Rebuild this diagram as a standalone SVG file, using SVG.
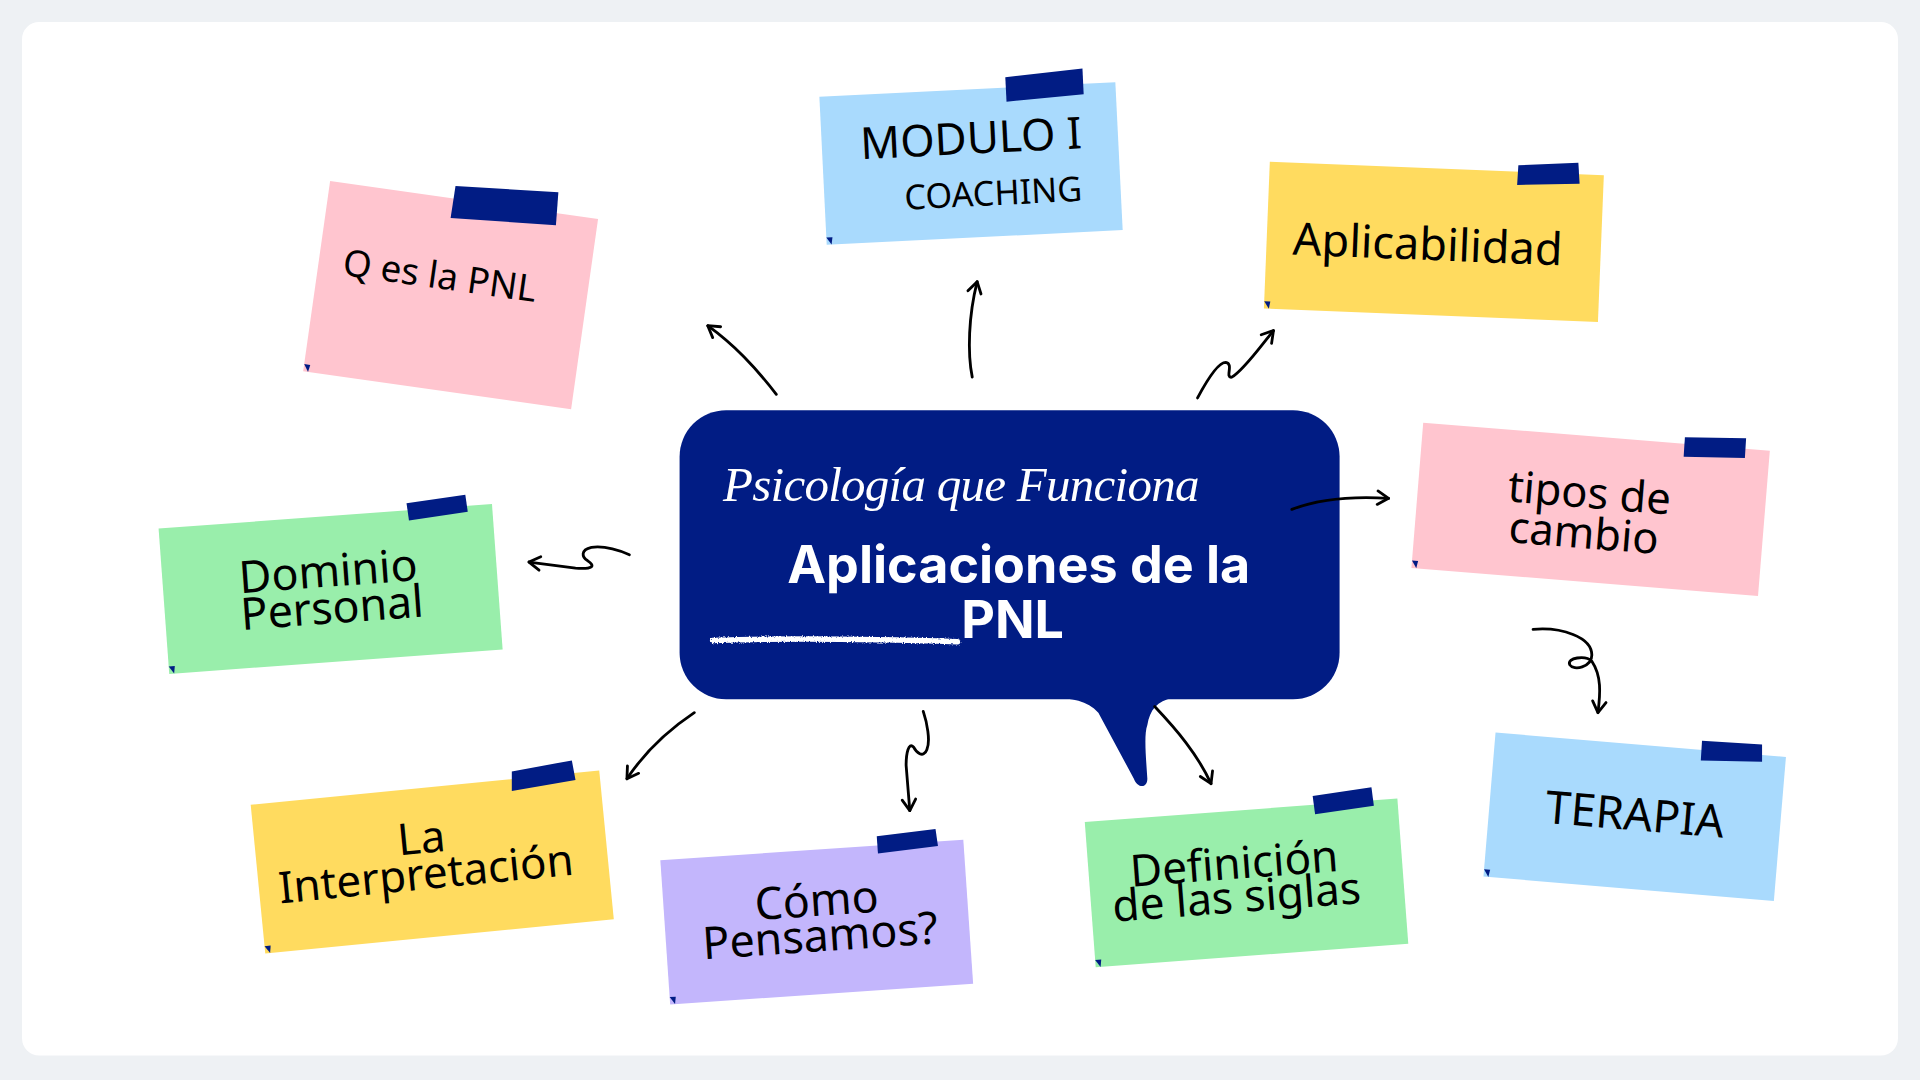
<svg xmlns="http://www.w3.org/2000/svg" width="1920" height="1080" viewBox="0 0 1920 1080">
<defs>
<style>
.note text{font-family:"Noto Sans","DejaVu Sans",sans-serif;fill:#000;text-anchor:middle}
.tape,.fold{fill:#011c84}
.con path{fill:none;stroke:#000;stroke-width:2.3;stroke-linecap:round;stroke-linejoin:round}
.pink{fill:#ffc5cf}.blue{fill:#a9dafd}.yellow{fill:#ffdb5f}.green{fill:#99eeab}.purple{fill:#c3b6fc}
</style>
<marker id="ah" viewBox="-12 -8 16 16" refX="0" refY="0" markerWidth="16" markerHeight="16" markerUnits="userSpaceOnUse" orient="auto">
<path d="M-9,-5.5 L0,0 L-9,5.5" fill="none" stroke="#000" stroke-width="2.3" stroke-linecap="round" stroke-linejoin="round"/>
</marker>
<filter id="chalk" x="-5%" y="-200%" width="110%" height="500%">
<feTurbulence type="fractalNoise" baseFrequency="0.9" numOctaves="2" result="n"/>
<feDisplacementMap in="SourceGraphic" in2="n" scale="3"/>
</filter>
</defs>
<rect width="1920" height="1080" fill="#eef1f4"/>
<g transform="scale(1.2244898)">
<rect x="18" y="18" width="1532" height="844" rx="14" fill="#ffffff"/>

<g id="center">
<rect x="555" y="335" width="539" height="236" rx="38" fill="#011c84"/>
<path d="M860,570 C875,570 888,572 897,582 L926,636 C929,644 937,644 937,636 C936,620 934,600 937,592 C939,580 945,572 958,570 Z" fill="#011c84"/>
<text x="785" y="409" font-family="Liberation Serif, serif" font-style="italic" font-size="40" fill="#ffffff" text-anchor="middle" textLength="389" lengthAdjust="spacing">Psicología que Funciona</text>
<text x="832" y="476" font-family="Inter, 'Liberation Sans', sans-serif" font-weight="700" font-size="42.5" fill="#ffffff" text-anchor="middle">Aplicaciones de la</text>
<text x="827" y="521" font-family="Inter, 'Liberation Sans', sans-serif" font-weight="700" font-size="42.5" fill="#ffffff" text-anchor="middle">PNL</text>
<path d="M582,523 C640,521 720,522 782,524" fill="none" stroke="#ffffff" stroke-width="4.5" stroke-linecap="round" filter="url(#chalk)"/>
</g>

<g id="connectors" class="con">
<path d="M634,322 C616,299 600,282 578,266" marker-end="url(#ah)"/>
<path d="M794,308 C790,288 791,258 798,230" marker-end="url(#ah)"/>
<path d="M978,325 C986,310 995,296 1001,296 C1008,297 1000,309 1006,308 C1016,302 1030,282 1040,270" marker-end="url(#ah)"/>
<path d="M1055,416 C1076,408 1102,405 1134,407" marker-end="url(#ah)"/>
<path d="M1252,514 C1275,512 1300,520 1300,535 C1300,545 1285,548 1282,543 C1279,537 1295,535 1300,540 C1308,552 1307,566 1305,582" marker-end="url(#ah)"/>
<path d="M514,453 C500,447 490,446 483,447 C474,449 475,455 480,458 C486,462 485,465 470,464 L432,459" marker-end="url(#ah)"/>
<path d="M567,582 C546,596 526,615 512,636" marker-end="url(#ah)"/>
<path d="M754,581 C757,590 760,605 757,612 C754,620 748,614 746,610 C742,606 740,615 740,625 L743,662" marker-end="url(#ah)"/>
<path d="M943,577 C961,596 978,616 989,640" marker-end="url(#ah)"/>
</g>

<g id="note-que-es" class="note">
<g transform="translate(368,241) rotate(8.06)">
<rect class="pink" x="-110.5" y="-78.5" width="221" height="157"/>
<polygon class="fold" points="-110.5,72.5 -105.5,72.5 -106.5,78.5"/>
<text x="-11" y="-4" font-size="30">Q es la PNL</text>
</g>
<polygon class="tape" points="372,152 456,157 454,184 368,178"/>
</g>

<g id="note-modulo" class="note">
<g transform="translate(793,133.5) rotate(-2.84)">
<rect class="blue" x="-121" y="-60.5" width="242" height="121"/>
<polygon class="fold" points="-121,54.5 -116,54.5 -117,60.5"/>
<text x="1" y="-8" font-size="36">MODULO I</text>
<text x="17" y="35" font-size="28">COACHING</text>
</g>
<polygon class="tape" points="821,63 884,56 885,77 822,83"/>
</g>

<g id="note-aplicabilidad" class="note">
<g transform="translate(1171,197.5) rotate(2.3)">
<rect class="yellow" x="-136.5" y="-60" width="273" height="120"/>
<polygon class="fold" points="-136.5,54 -131.5,54 -132.5,60"/>
<text x="-5" y="15" font-size="36.8">Aplicabilidad</text>
</g>
<polygon class="tape" points="1240,135 1289,133 1290,150 1239,151"/>
</g>

<g id="note-tipos" class="note">
<g transform="translate(1299,416) rotate(4.65)">
<rect class="pink" x="-142" y="-59.5" width="284" height="119"/>
<polygon class="fold" points="-142,53.5 -137,53.5 -138,59.5"/>
<text x="-2" y="-1" font-size="35.5">tipos de</text>
<text x="-4" y="32" font-size="35.5">cambio</text>
</g>
<polygon class="tape" points="1376,357 1426,358 1425,374 1375,373"/>
</g>

<g id="note-dominio" class="note">
<g transform="translate(270,481) rotate(-4.2)">
<rect class="green" x="-136.5" y="-59.5" width="273" height="119"/>
<polygon class="fold" points="-136.5,53.5 -131.5,53.5 -132.5,59.5"/>
<text x="-1" y="-2" font-size="36.5">Dominio</text>
<text x="0" y="28" font-size="36.5">Personal</text>
</g>
<polygon class="tape" points="332,411 380,404 382,418 334,425"/>
</g>

<g id="note-interpretacion" class="note">
<g transform="translate(353,704) rotate(-5.6)">
<rect class="yellow" x="-143" y="-61" width="286" height="122"/>
<polygon class="fold" points="-143,55 -138,55 -139,61"/>
<text x="-7" y="-8" font-size="35.8">La</text>
<text x="-6" y="21.5" font-size="35.8">Interpretación</text>
</g>
<polygon class="tape" points="418,630 467,621 470,637 418,646"/>
</g>

<g id="note-como" class="note">
<g transform="translate(667,753) rotate(-3.9)">
<rect class="purple" x="-124" y="-59" width="248" height="118"/>
<polygon class="fold" points="-124,53 -119,53 -120,59"/>
<text x="1" y="-5" font-size="36.5">Cómo</text>
<text x="2" y="24" font-size="36.5">Pensamos?</text>
</g>
<polygon class="tape" points="716,683 764,677 766,691 717,697"/>
</g>

<g id="note-definicion" class="note">
<g transform="translate(1018,721) rotate(-4.3)">
<rect class="green" x="-128" y="-59.5" width="256" height="119"/>
<polygon class="fold" points="-128,53.5 -123,53.5 -124,59.5"/>
<text x="-9" y="-4" font-size="36">Definición</text>
<text x="-9" y="23.5" font-size="36">de las siglas</text>
</g>
<polygon class="tape" points="1072,650 1120,643 1122,658 1074,665"/>
</g>

<g id="note-terapia" class="note">
<g transform="translate(1335,667) rotate(4.8)">
<rect class="blue" x="-119" y="-59" width="238" height="118"/>
<polygon class="fold" points="-119,53 -114,53 -115,59"/>
<text x="0" y="11" font-size="37">TERAPIA</text>
</g>
<polygon class="tape" points="1390,605 1439,608 1439,622 1389,621"/>
</g>
</g>
</svg>
